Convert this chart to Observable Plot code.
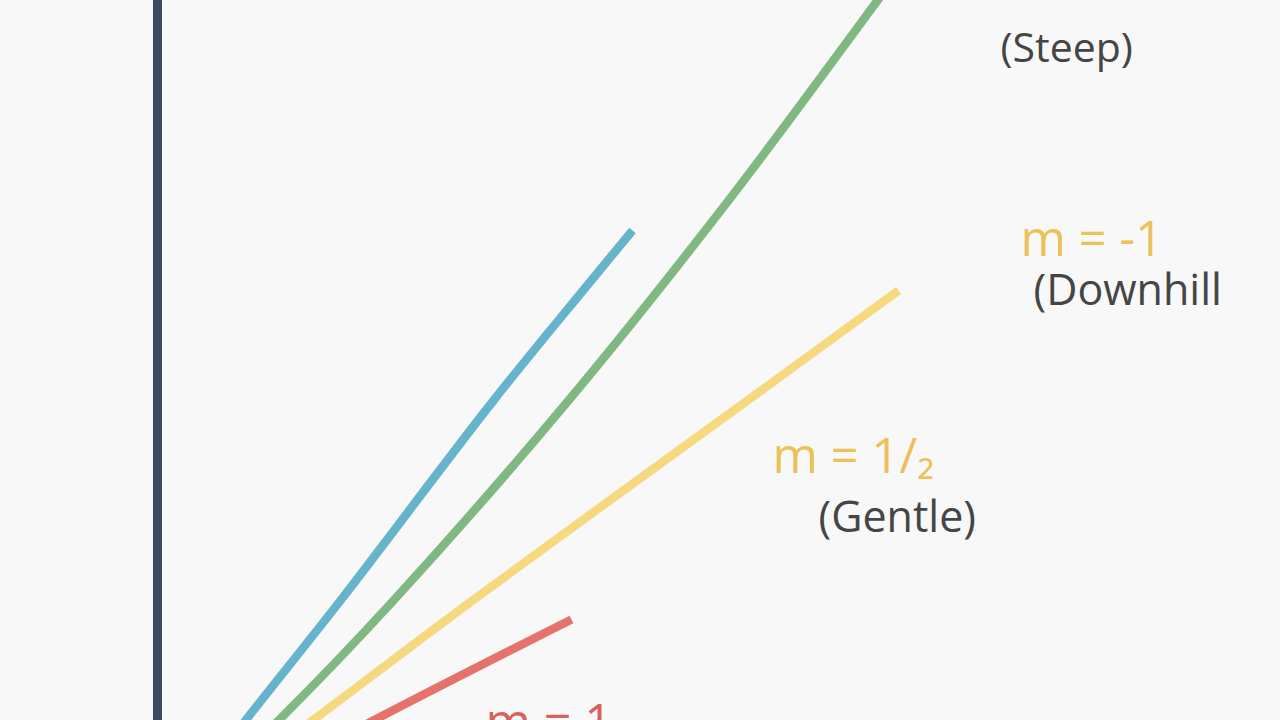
<!DOCTYPE html>
<html>
<head>
<meta charset="utf-8">
<script src="https://cdn.jsdelivr.net/npm/d3@7"></script>
<script src="https://cdn.jsdelivr.net/npm/@observablehq/plot@0.6"></script>
<style>
  html, body { margin: 0; padding: 0; background: #f8f8f8; overflow: hidden; }
  #chart svg { display: block; }
</style>
</head>
<body>
<div id="chart"></div>
<script>
// Line series (x, y in graph units; origin where the lines meet the vertical axis)
const blueX   = [0, 0.88, 1.83, 3.36, 4.28, 4.75];
const blueY   = [0, 1.15, 2.35, 4.35, 5.48, 6.05];
const greenX  = [0, 1.21, 2.36, 4.11, 5.71, 7.20, 7.31];
const greenY  = [0, 1.15, 2.35, 4.35, 6.35, 8.35, 8.50];
const yellowX = [0, 1.55, 3.15, 5.90, 7.41];
const yellowY = [0, 1.15, 2.35, 4.35, 5.45];
const redX    = [0, 2.16, 4.14];
const redY    = [0, 1.15, 2.16];

// Labels
const labelText  = ["(Steep)", "m = -1", "(Downhill", "m = 1/\u2082", "(Gentle)", "m = 1"];
const labelX     = [8.43, 8.63, 8.76, 6.15, 6.61, 3.28];
const labelY     = [7.87, 5.95, 5.44, 3.78, 3.17, 1.12];
const labelKind  = ["note", "slope", "note", "slope", "note", "slopeRed"];

const toPts = (xs, ys) => xs.map((x, i) => ({x, y: ys[i]}));
const blue = toPts(blueX, blueY);
const green = toPts(greenX, greenY);
const yellow = toPts(yellowX, yellowY);
const red = toPts(redX, redY);
const labels = labelText.map((t, i) => ({t, x: labelX[i], y: labelY[i], k: labelKind[i]}));

const lineOpts = (stroke) => ({x: "x", y: "y", stroke, strokeWidth: 8.5, strokeLinecap: "butt", curve: "catmull-rom", clip: true});

const chart = Plot.plot({
  width: 1280,
  height: 720,
  margin: 0,
  style: {background: "#f8f8f8", fontFamily: "'Open Sans', 'Noto Sans', sans-serif"},
  x: {domain: [-1.57, 11.23], range: [0, 1280], axis: null},
  y: {domain: [1.15, 8.35], range: [720, 0], axis: null},
  marks: [
    Plot.ruleX([0], {stroke: "#3e4a64", strokeWidth: 9, y1: 0, y2: 9, clip: true}),
    Plot.line(blue, lineOpts("#65b4cb")),
    Plot.line(green, lineOpts("#80b882")),
    Plot.line(yellow, lineOpts("#f6d87e")),
    Plot.line(red, lineOpts("#e6736b")),
    Plot.text(labels.filter(d => d.k === "note" && d.t === "(Steep)"), {
      x: "x", y: "y", text: "t", textAnchor: "start", lineAnchor: "middle",
      fontSize: 41, fill: "#454545"
    }),
    Plot.text(labels.filter(d => d.k === "note" && d.t !== "(Steep)"), {
      x: "x", y: "y", text: "t", textAnchor: "start", lineAnchor: "middle",
      fontSize: 43, fill: "#454545"
    }),
    Plot.text(labels.filter(d => d.k === "slope"), {
      x: "x", y: "y", text: "t", textAnchor: "start", lineAnchor: "middle",
      fontSize: 49, fontWeight: 400, fill: "#ecc158"
    }),
    Plot.text(labels.filter(d => d.k === "slopeRed"), {
      x: "x", y: "y", text: "t", textAnchor: "start", lineAnchor: "middle",
      fontSize: 49, fontWeight: 400, fill: "#d9615c"
    })
  ]
});
document.getElementById("chart").appendChild(chart);
</script>
</body>
</html>
